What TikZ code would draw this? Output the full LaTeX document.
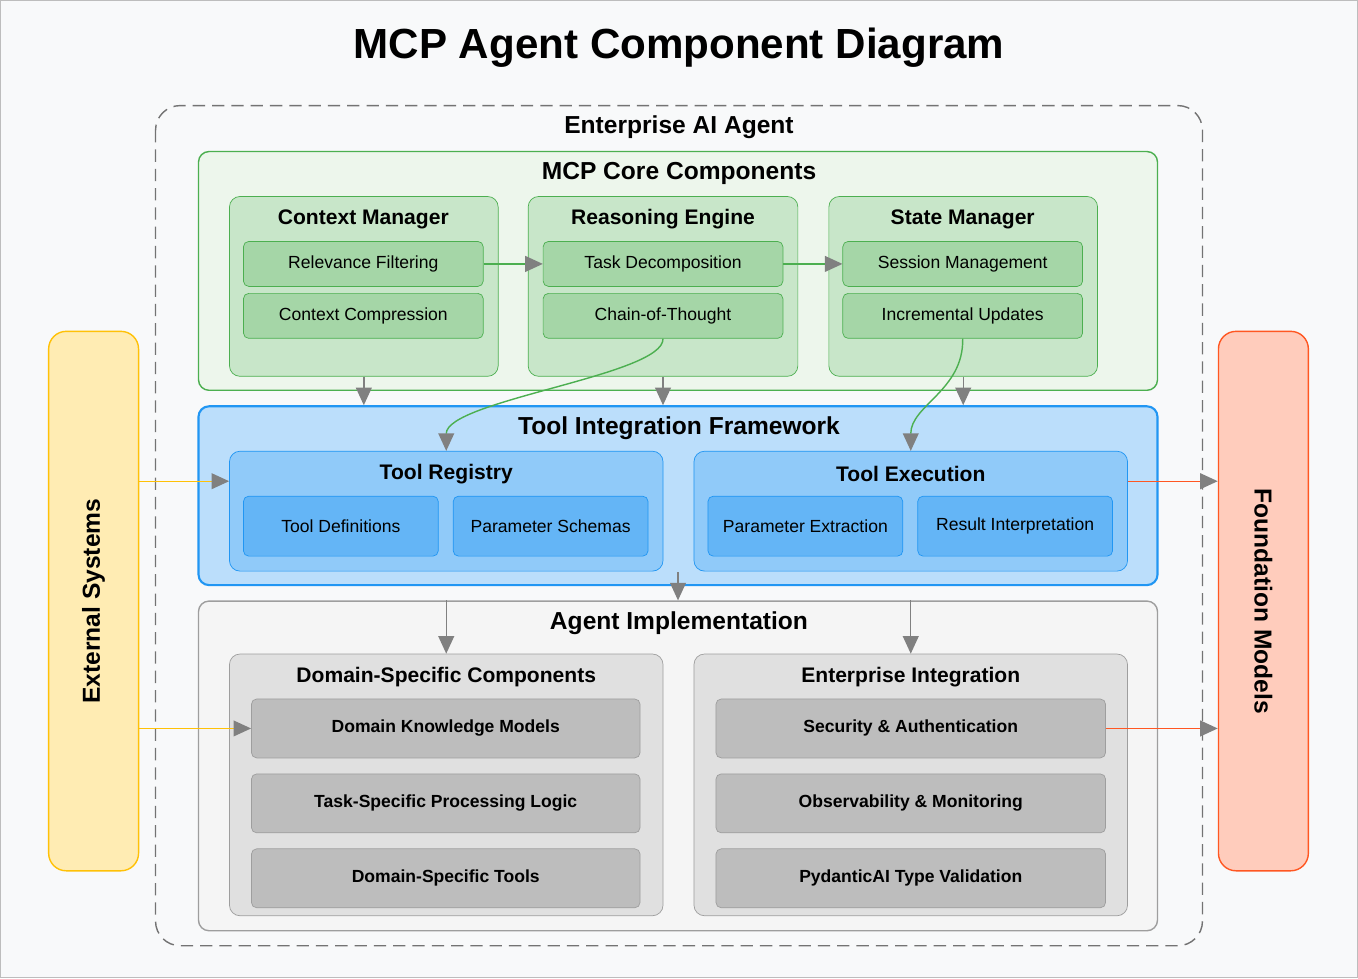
\documentclass[tikz,border=0pt]{standalone}
\usepackage{fontspec}
\setmainfont{Liberation Sans}
\usetikzlibrary{arrows.meta,positioning,fit,calc}
\definecolor{bgC}{HTML}{F8F9FA}
\definecolor{grnD}{HTML}{4CAF50}
\definecolor{grnL}{HTML}{EDF6EC}
\definecolor{grnM}{HTML}{C8E6C9}
\definecolor{grnI}{HTML}{A5D6A7}
\definecolor{bluD}{HTML}{2196F3}
\definecolor{bluL}{HTML}{BBDEFB}
\definecolor{bluM}{HTML}{90CAF9}
\definecolor{bluI}{HTML}{64B5F6}
\definecolor{gryD}{HTML}{9E9E9E}
\definecolor{gryL}{HTML}{F5F5F5}
\definecolor{gryM}{HTML}{E0E0E0}
\definecolor{gryI}{HTML}{BDBDBD}
\definecolor{extF}{HTML}{FFECB3}
\definecolor{extD}{HTML}{FFC107}
\definecolor{fndF}{HTML}{FFCCBC}
\definecolor{fndD}{HTML}{FF5722}
\tikzset{
    area/.style  = {fit={#1}, inner sep=0pt, rounded corners=6pt, thick},
    item/.style  = {fit={#1}, inner sep=0pt, rounded corners=3pt, font=\fontsize{10}{12}\selectfont},
    ttl/.style   = {font=\bfseries\fontsize{14}{16}\selectfont},
    sub/.style   = {font=\bfseries\fontsize{12}{14}\selectfont},
    link/.style  = {thick, draw=#1, -{Triangle[length=10pt,width=9pt,fill=gray,color=gray]}},
}
\begin{document}
\begin{tikzpicture}[x=0.02cm,y=-0.02cm]
\fill[bgC, draw=gryI, thick] (0,0) rectangle (1358,978);
\node[font=\bfseries\fontsize{24}{28}\selectfont] (title) at (679,47) {MCP Agent Component Diagram};

% agent frame
\draw[gray!90!black, thick, dash pattern=on 7pt off 4pt, rounded corners=14pt] (155,105) rectangle (1203,946);
\node[ttl] (agent) at (679,127) {Enterprise AI Agent};

% MCP core
\node[area={(198,151)(1158,390)}, fill=grnL, draw=grnD] (core) {};
\node[ttl] at (679,173) {MCP Core Components};
\node[area={(229,196)(498,376)}, fill=grnM, draw=grnD, thin] (cm) {};
\node[area={(528,196)(798,376)}, fill=grnM, draw=grnD, thin] (re) {};
\node[area={(829,196)(1098,376)}, fill=grnM, draw=grnD, thin] (sm) {};
\node[sub] at (363,219) {Context Manager};
\node[sub] at (663,219) {Reasoning Engine};
\node[sub] at (963,219) {State Manager};
\node[item={(243,241)(483,286)}, fill=grnI, draw=grnD, label=center:Relevance Filtering] (rf) {};
\node[item={(243,293)(483,338)}, fill=grnI, draw=grnD, label=center:Context Compression] (cc) {};
\node[item={(543,241)(783,286)}, fill=grnI, draw=grnD, label=center:Task Decomposition] (td) {};
\node[item={(543,293)(783,338)}, fill=grnI, draw=grnD, label=center:Chain-of-Thought] (cot) {};
\node[item={(843,241)(1083,286)}, fill=grnI, draw=grnD, label=center:Session Management] (ses) {};
\node[item={(843,293)(1083,338)}, fill=grnI, draw=grnD, label=center:Incremental Updates] (inc) {};

% tool framework
\node[area={(198,406)(1158,585)}, fill=bluL, draw=bluD, very thick] (fw) {};
\node[ttl] at (679,428) {Tool Integration Framework};
\node[area={(229,451)(663,571)}, fill=bluM, draw=bluD, thin] (reg) {};
\node[area={(694,451)(1128,571)}, fill=bluM, draw=bluD, thin] (exe) {};
\node[sub] at (446,474) {Tool Registry};
\node[sub] at (911,474) {Tool Execution};
\node[item={(243,496)(438,556)}, fill=bluI, draw=bluD, label=center:Tool Definitions] (tdef) {};
\node[item={(453,496)(648,556)}, fill=bluI, draw=bluD, label=center:Parameter Schemas] (psch) {};
\node[item={(708,496)(903,556)}, fill=bluI, draw=bluD, label=center:Parameter Extraction] (pext) {};
\node[item={(918,496)(1113,556)}, fill=bluI, draw=bluD, label=center:Result Interpretation] (rint) {};

% implementation
\node[area={(198,601)(1158,931)}, fill=gryL, draw=gryD] (impl) {};
\node[ttl] at (679,623) {Agent Implementation};
\node[area={(229,654)(663,916)}, fill=gryM, draw=gryD, thin] (dom) {};
\node[area={(694,654)(1128,916)}, fill=gryM, draw=gryD, thin] (ent) {};
\node[sub] at (446,677) {Domain-Specific Components};
\node[sub] at (911,677) {Enterprise Integration};
\foreach \nm/\ya/\yb/\txt in {dk/699/758/Domain Knowledge Models, tp/774/833/Task-Specific Processing Logic, dt/849/908/Domain-Specific Tools}
    \node[item={(251,\ya)(640,\yb)}, fill=gryI, draw=gryD, label={[font=\bfseries\fontsize{10}{12}\selectfont]center:\txt}] (\nm) {};
\foreach \nm/\ya/\yb/\txt in {sa/699/758/Security \& Authentication, om/774/833/Observability \& Monitoring, pv/849/908/PydanticAI Type Validation}
    \node[item={(716,\ya)(1106,\yb)}, fill=gryI, draw=gryD, label={[font=\bfseries\fontsize{10}{12}\selectfont]center:\txt}] (\nm) {};

% outside
\node[area={(48,331)(138,871)}, fill=extF, draw=extD, rounded corners=10pt] (ext) {};
\node[ttl, rotate=90] at (ext.center) {External Systems};
\node[area={(1219,331)(1309,871)}, fill=fndF, draw=fndD, rounded corners=10pt] (fnd) {};
\node[ttl, rotate=-90] at (fnd.center) {Foundation Models};

% connectors
\draw[link=grnD] (rf) -- (td);
\draw[link=grnD] (td) -- (ses);
\draw[link=gray] (cm.south) -- (cm.south |- fw.north);
\draw[link=gray] (re.south) -- (re.south |- fw.north);
\draw[link=gray] (sm.south) -- (sm.south |- fw.north);
\draw[link=grnD] (cot.south) .. controls (664,375) and (446,400) .. (reg.north);
\draw[link=grnD] (inc.south) .. controls (964,390) and (911,405) .. (exe.north);
\coordinate (fwb) at ($(fw.south)+(0,-14)$);
\draw[link=gray] (fwb) -- (fwb |- impl.north);
\draw[link=gray] (impl.north -| dom.north) -- (dom.north);
\draw[link=gray] (impl.north -| ent.north) -- (ent.north);
\coordinate (e1) at (ext.east |- 0,481);
\draw[link=extD] (e1) -- (e1 -| reg.west);
\draw[link=extD] (ext.east |- dk.west) -- (dk.west);
\coordinate (f1) at (exe.east |- 0,481);
\draw[link=fndD] (f1) -- (f1 -| fnd.west);
\draw[link=fndD] (sa.east) -- (sa.east -| fnd.west);
\end{tikzpicture}
\end{document}
